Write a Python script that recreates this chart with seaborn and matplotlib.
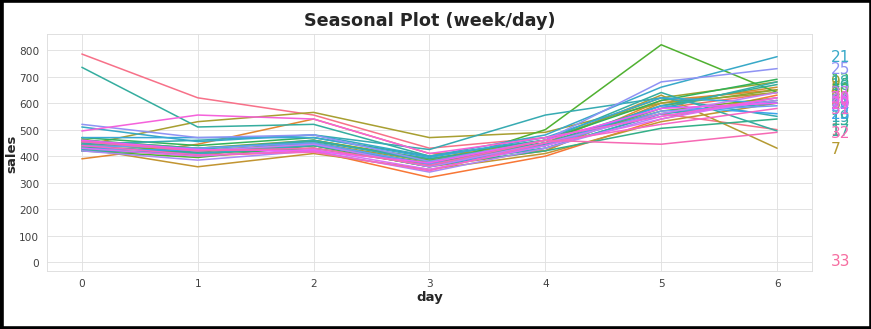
import numpy as np
import pandas as pd
import matplotlib
matplotlib.use("Agg")
import matplotlib.pyplot as plt
import seaborn as sns
from matplotlib.patches import Rectangle

# Average daily sales, one list per week (day 0 = Monday ... day 6 = Sunday)
days = [0, 1, 2, 3, 4, 5, 6]
weeks = list(range(1, 34))
sales_by_week = [
    [785, 620, 555, 430, 470, 560, 500],   # 1
    [440, 410, 430, 370, 440, 580, 640],   # 2
    [430, 400, 420, 320, 400, 540, 630],   # 3
    [390, 445, 540, 410, 420, 610, 650],   # 4
    [450, 420, 440, 360, 420, 600, 660],   # 5
    [430, 360, 410, 350, 410, 530, 600],   # 6
    [445, 420, 450, 380, 450, 630, 430],   # 7
    [440, 530, 565, 470, 490, 600, 640],   # 8
    [460, 430, 460, 390, 460, 620, 680],   # 9
    [455, 410, 440, 375, 440, 590, 650],   # 10
    [465, 400, 460, 385, 450, 570, 620],   # 11
    [420, 395, 440, 360, 500, 820, 640],   # 12
    [470, 440, 470, 400, 460, 610, 690],   # 13
    [435, 415, 450, 370, 430, 560, 610],   # 14
    [420, 410, 430, 365, 420, 505, 540],   # 15
    [460, 430, 455, 390, 450, 590, 670],   # 16
    [735, 510, 520, 400, 460, 640, 495],   # 17
    [450, 425, 460, 380, 445, 580, 680],   # 18
    [445, 460, 480, 425, 555, 620, 550],   # 19
    [425, 410, 440, 370, 430, 560, 600],   # 20
    [510, 455, 480, 400, 480, 660, 775],   # 21
    [470, 470, 470, 395, 470, 620, 600],   # 22
    [430, 420, 445, 360, 440, 590, 560],   # 23
    [440, 430, 450, 370, 440, 570, 590],   # 24
    [520, 470, 480, 380, 460, 680, 730],   # 25
    [420, 385, 420, 340, 430, 550, 610],   # 26
    [455, 420, 445, 360, 450, 560, 640],   # 27
    [430, 400, 425, 350, 440, 540, 620],   # 28
    [460, 425, 420, 375, 460, 580, 600],   # 29
    [495, 555, 540, 410, 470, 550, 620],   # 30
    [440, 405, 415, 345, 450, 520, 580],   # 31
    [455, 420, 430, 365, 460, 445, 490],   # 32
    [np.nan, np.nan, np.nan, np.nan, np.nan, np.nan, 8],  # 33 (single day)
]

rows = []
for wk, vals in zip(weeks, sales_by_week):
    for d, v in zip(days, vals):
        if not np.isnan(v):
            rows.append({"week": wk, "day": d, "sales": v})
X = pd.DataFrame(rows)

sns.set_style("whitegrid")
plt.rcParams["font.family"] = ["DejaVu Sans"]
plt.rc("axes", labelweight="bold", labelsize="large", titleweight="bold",
       titlesize=16, titlepad=8, edgecolor="#dddddd")
plt.rc("grid", color="#e0e0e0")

DPI = 872 / 11
fig = plt.figure(figsize=(11, 330 / DPI), dpi=DPI)
ax = fig.add_axes([0.054, 0.176, 0.877, 0.718])

palette = sns.color_palette("husl", n_colors=X["week"].nunique())
sns.lineplot(data=X, x="day", y="sales", hue="week", palette=palette,
             errorbar=None, legend=False, linewidth=1.4, ax=ax)
ax.set_title("Seasonal Plot (week/day)", color=".15")
ax.set_xlabel("day", color=".15", labelpad=2)
ax.set_ylabel("sales", color=".15", labelpad=1)
ax.tick_params(colors=".25", labelsize=9.5)
ax.tick_params(axis="x", pad=3)

for line, name in zip(ax.lines, sorted(X["week"].unique())):
    y_ = line.get_ydata()[-1]
    ax.annotate(str(name), xy=(1, y_), xytext=(17, 0), color=line.get_color(),
                xycoords=ax.get_yaxis_transform(), textcoords="offset points",
                size=14, va="center")

fig.patches.append(Rectangle((0, 0), 1, 1, transform=fig.transFigure,
                             fill=False, edgecolor="black", linewidth=6,
                             zorder=10))
fig.savefig("out.png", dpi=DPI)
